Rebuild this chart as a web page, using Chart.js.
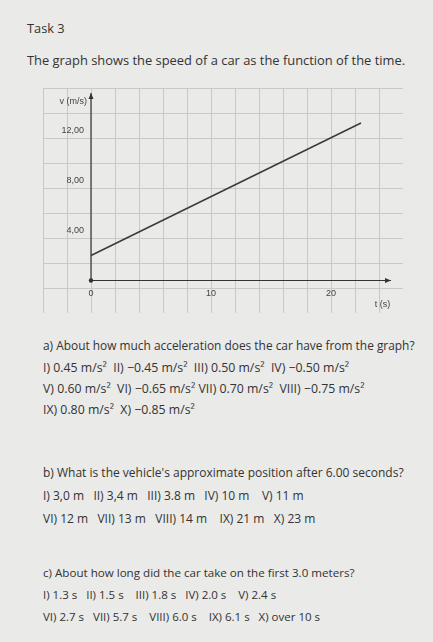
<!DOCTYPE html><html><head><meta charset="utf-8">
<script src="https://cdn.jsdelivr.net/npm/chart.js@4"></script>
<style>
body{margin:0;width:433px;height:642px;background:#eaeae8;font-family:"Open Sans",sans-serif;color:#333;position:relative;overflow:hidden}
.t{position:absolute;white-space:pre;font-size:12px}
#wrap{position:absolute;left:43px;top:88px;width:360px;height:225px}
</style></head><body>
<div class="t" style="left:27px;top:19px;font-size:12.8px">Task 3</div>
<div class="t" style="left:27px;top:51px;font-size:12.9px">The graph shows the speed of a car as the function of the time.</div>
<div id="wrap"><canvas id="c"></canvas></div>
<div class="t" style="left:43px;top:337px;font-size:11.9px">a) About how much acceleration does the car have from the graph?</div>
<div class="t" style="left:43px;top:359px;font-size:12.3px">I) 0.45 m/s²  II) −0.45 m/s²  III) 0.50 m/s²  IV) −0.50 m/s²</div>
<div class="t" style="left:43px;top:380px;font-size:12.3px">V) 0.60 m/s²  VI) −0.65 m/s² VII) 0.70 m/s²  VIII) −0.75 m/s²</div>
<div class="t" style="left:43px;top:401px;font-size:12.3px">IX) 0.80 m/s²  X) −0.85 m/s²</div>
<div class="t" style="left:43px;top:464px;font-size:12px">b) What is the vehicle's approximate position after 6.00 seconds?</div>
<div class="t" style="left:43px;top:487px;font-size:12px">I) 3,0 m   II) 3,4 m   III) 3.8 m   IV) 10 m    V) 11 m</div>
<div class="t" style="left:43px;top:510px;font-size:12px">VI) 12 m   VII) 13 m   VIII) 14 m    IX) 21 m   X) 23 m</div>
<div class="t" style="left:43px;top:565px;font-size:11.6px">c) About how long did the car take on the first 3.0 meters?</div>
<div class="t" style="left:43px;top:587px;font-size:11.5px">I) 1.3 s   II) 1.5 s    III) 1.8 s   IV) 2.0 s    V) 2.4 s</div>
<div class="t" style="left:43px;top:609px;font-size:11.5px">VI) 2.7 s   VII) 5.7 s    VIII) 6.0 s    IX) 6.1 s   X) over 10 s</div>
<script>
const times=[0,22.5];
const speeds=[2.0,12.6];
const xTickLabels=[0,10,20];
const yTickLabels=[4,8,12];
const axesPlugin={id:'axes',afterDatasetsDraw(ch){
 const c=ch.ctx,x=ch.scales.x,y=ch.scales.y;
 const ox=x.getPixelForValue(0),oy=y.getPixelForValue(0);
 c.save();c.strokeStyle='#333';c.fillStyle='#333';c.lineWidth=1.2;
 c.beginPath();c.moveTo(ox,oy);c.lineTo(x.getPixelForValue(25),oy);c.stroke();
 c.beginPath();c.moveTo(ox,oy);c.lineTo(ox,y.getPixelForValue(15));c.stroke();
 let ax=x.getPixelForValue(25);c.beginPath();c.moveTo(ax,oy);c.lineTo(ax-6,oy-2.5);c.lineTo(ax-6,oy+2.5);c.fill();
 let ay=y.getPixelForValue(15);c.beginPath();c.moveTo(ox,ay);c.lineTo(ox-2.5,ay+6);c.lineTo(ox+2.5,ay+6);c.fill();
 c.beginPath();c.arc(ox,oy,2.2,0,7);c.fill();
 c.font='9px "Liberation Sans",Arial';c.fillStyle='#444';
 c.textAlign='center';c.textBaseline='top';
 xTickLabels.forEach(v=>c.fillText(String(v),x.getPixelForValue(v),oy+9));
 c.textAlign='right';c.textBaseline='middle';
 yTickLabels.forEach(v=>c.fillText(v.toFixed(2).replace('.',','),ox-7,y.getPixelForValue(v)));
 c.fillText('v (m/s)',ox-4,y.getPixelForValue(14.3));
 c.textAlign='center';c.textBaseline='top';
 c.fillText('t (s)',x.getPixelForValue(24.3),oy+20);
 c.restore();}};
new Chart(document.getElementById('c'),{type:'line',
 data:{datasets:[{data:times.map((t,i)=>({x:t,y:speeds[i]})),borderColor:'#3a3a3a',borderWidth:1.5,pointRadius:0,fill:false}]},
 options:{responsive:true,maintainAspectRatio:false,animation:false,
  layout:{padding:0},
  plugins:{legend:{display:false},tooltip:{enabled:false}},
  scales:{
   x:{type:'linear',min:-4,max:26,ticks:{stepSize:2,display:false},grid:{color:'#c9c9c7',drawTicks:false},border:{display:false}},
   y:{min:-2.6,max:15.4,ticks:{stepSize:2,display:false},grid:{color:'#c9c9c7',drawTicks:false},border:{display:false}}
  }},
 plugins:[axesPlugin]});
</script></body></html>
